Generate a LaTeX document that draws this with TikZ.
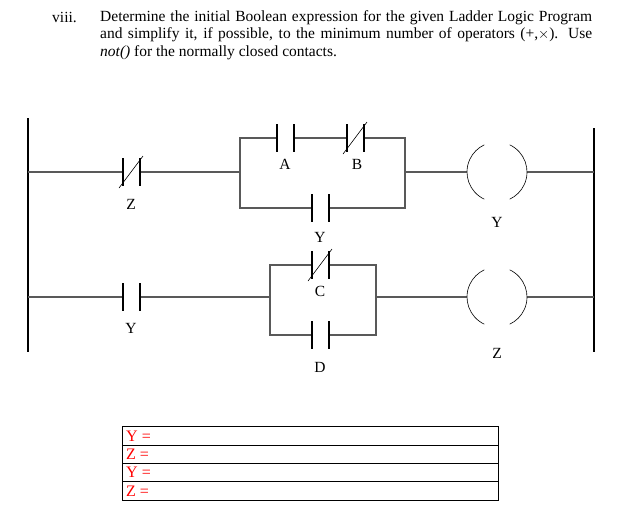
\documentclass[tikz,border=0pt]{standalone}
\usepackage{fontspec}
\setmainfont{Liberation Serif}
\begin{document}
\begin{tikzpicture}[x=1pt,y=-1pt,
  wire/.style={draw=black!65,line width=1.1pt},
  plate/.style={draw=black,line width=2pt},
  lbl/.style={font=\fontsize{15.5}{16}\selectfont},
  ans/.style={font=\fontsize{16}{17}\selectfont,text=red,anchor=west,inner sep=0pt}]
\useasboundingbox (0,0) rectangle (631,520);
\newcommand{\ctc}[3]{% x y nc
  \draw[plate] (#1-8.5,#2-14) -- (#1-8.5,#2+14) (#1+8.5,#2-14) -- (#1+8.5,#2+14);
  \ifnum#3=1 \draw[line width=0.6pt] (#1-12,#2+16) -- (#1+12,#2-16);\fi}
\newcommand{\coil}[2]{%
  \draw[line width=0.6pt] (#1,#2) ++(115:30) arc[start angle=115,end angle=245,radius=30];
  \draw[line width=0.6pt] (#1,#2) ++(-65:30) arc[start angle=-65,end angle=65,radius=30];}
% header
\node[anchor=base west,inner sep=0pt,font=\fontsize{15.5}{17.5}\selectfont] (num) at (52,22) {viii.};
\node[anchor=north west,inner sep=0pt,text width=492pt,align=justify,font=\fontsize{15.5}{17.5}\selectfont] (q) at (100,10)
 {Determine the initial Boolean expression for the given Ladder Logic Program and simplify it, if possible, to the minimum number of operators (+,$\times$). Use \textit{not()} for the normally closed contacts.};
% rails
\coordinate (l1) at (28,118); \coordinate (l2) at (28,352);
\coordinate (r1) at (594,128); \coordinate (r2) at (594,352);
\draw[line width=1.1pt] (l1) -- (l2) (r1) -- (r2);
% rung 1
\draw[wire] (28,172) -- (122.5,172) (139.5,172) -- (240,172);
\ctc{131}{172}{1}
\draw[wire] (240,172) -- (240,138) -- (276.5,138) (293.5,138) -- (346.5,138) (363.5,138) -- (405,138) -- (405,208) -- (328.5,208)
  (311.5,208) -- (240,208) -- (240,172);
\ctc{285}{138}{0}\ctc{355}{138}{1}\ctc{320}{208}{0}
\draw[wire] (405,172) -- (467,172) (527,172) -- (594,172);
\coil{497}{172}
\node[lbl] (lz) at (131,204) {Z};
\node[lbl] (la) at (285,164) {A};
\node[lbl] (lb) at (357,164) {B};
\node[lbl] (ly) at (320,237) {Y};
\node[lbl] (lcy) at (497,222) {Y};
% rung 2
\draw[wire] (28,297) -- (122.5,297) (139.5,297) -- (270,297);
\ctc{131}{297}{0}
\draw[wire] (270,297) -- (270,265) -- (311.5,265) (328.5,265) -- (376,265) -- (376,335) -- (328.5,335) (311.5,335) -- (270,335) -- (270,297);
\ctc{320}{265}{1}\ctc{320}{335}{0}
\draw[wire] (376,297) -- (467,297) (527,297) -- (594,297);
\coil{497}{297}
\node[lbl] (ly2) at (131,328) {Y};
\node[lbl] (lc) at (320,291) {C};
\node[lbl] (ld) at (320,367) {D};
\node[lbl] (lcz) at (497,353) {Z};
% answer table
\draw[line width=0.8pt] (122,426) rectangle (498,500);
\draw[line width=0.8pt] (122,445) -- (498,445) (122,463) -- (498,463) (122,481) -- (498,481);
\node[ans] (a1) at (126,436) {Y =};
\node[ans] (a2) at (126,454) {Z =};
\node[ans] (a3) at (126,472) {Y =};
\node[ans] (a4) at (126,491) {Z =};
\end{tikzpicture}
\end{document}
